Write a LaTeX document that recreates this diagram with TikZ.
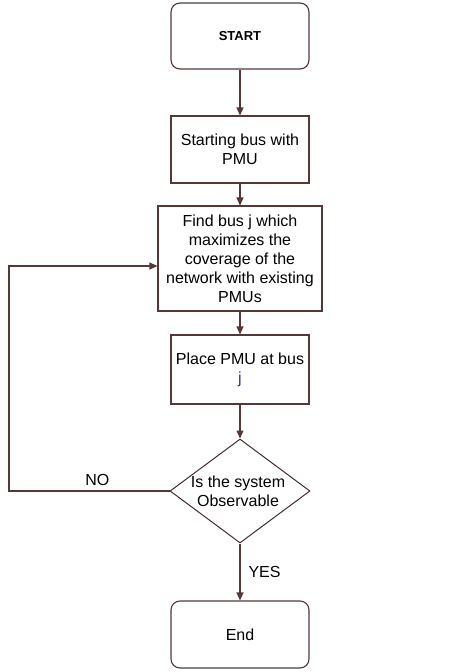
\documentclass[tikz,border=0pt]{standalone}
\usepackage{fontspec}
\setmainfont{Liberation Sans}
\usetikzlibrary{shapes.geometric,arrows.meta}
\definecolor{edge}{RGB}{85,55,55}
\definecolor{jcol}{RGB}{70,40,150}
\tikzset{
  box/.style={draw=edge, line width=1.1pt, minimum width=138pt, minimum height=67pt, inner sep=0pt, align=center, font=\fontsize{16}{19}\selectfont},
  term/.style={box, rounded corners=9pt},
  dec/.style={draw=edge!80!black, line width=1pt, diamond, minimum width=140pt, minimum height=104pt, inner sep=0pt},
  txt/.style={align=center, font=\fontsize{16}{19}\selectfont, inner sep=0pt},
  flow/.style={draw=edge, line width=1.1pt, -{Triangle[length=8pt,width=7pt]}}
}
\begin{document}
\begin{tikzpicture}[x=1pt,y=-1pt]
\useasboundingbox (0,0) rectangle (474,672);
\node[term, font=\fontsize{13}{15}\selectfont\bfseries, minimum height=66pt] (start) at (240,36) {START};
\node[box] (sbus) at (240,149.5) {Starting bus with\\PMU};
\node[box, minimum width=164pt, minimum height=105pt] (find) at (240,258.5) {Find bus j which\\maximizes the\\coverage of the\\network with existing\\PMUs};
\node[box, minimum height=69pt] (place) at (240,369.5) {Place PMU at bus\\\textcolor{jcol}{j}};
\node[dec] (dia) at (240,491) {};
\node[txt] (diatext) at (238,491) {Is the system\\Observable};
\node[term] (end) at (240,634.5) {End};
\draw[flow] (start) -- (sbus);
\draw[flow] (sbus) -- (find);
\draw[flow] (find) -- (place);
\draw[flow] (place) -- (dia);
\draw[flow] (dia) -- node[right=8pt, txt] (yes) {YES} (end);
\coordinate (lp1) at (9,491);
\coordinate (lp2) at (9,266);
\coordinate (fin) at (find.west |- lp2);
\draw[flow] (dia.west) -- node[above=5pt, pos=0.45, txt] (no) {NO} (lp1) -- (lp2) -- (fin);
\end{tikzpicture}
\end{document}
